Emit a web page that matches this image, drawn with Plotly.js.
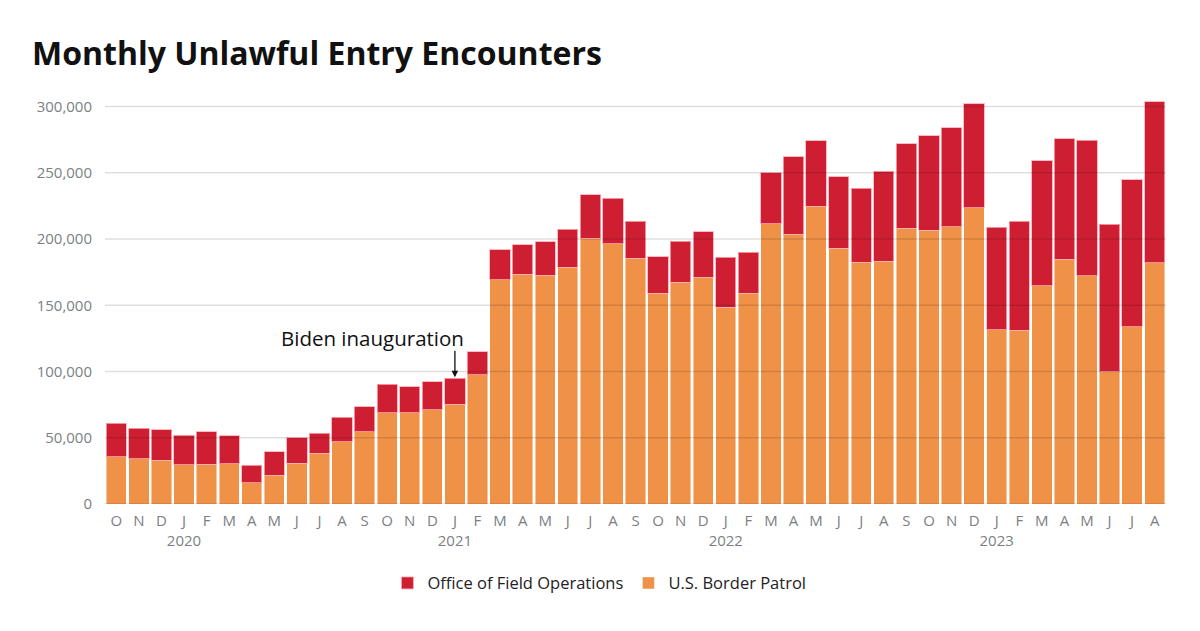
<!DOCTYPE html>
<html>
<head>
<meta charset="utf-8">
<script src="https://cdn.plot.ly/plotly-3.0.1.min.js"></script>
<style>
    html, body { margin: 0; padding: 0; background: #fff; }
    #graphDiv { width: 1200px; height: 631px; }
</style>
</head>
<body>
<div id="graphDiv"></div>
<script>
// Months from Oct 2019 to Aug 2023
let monthKeys = [
    '2019-10', '2019-11', '2019-12',
    '2020-01', '2020-02', '2020-03', '2020-04', '2020-05', '2020-06',
    '2020-07', '2020-08', '2020-09', '2020-10', '2020-11', '2020-12',
    '2021-01', '2021-02', '2021-03', '2021-04', '2021-05', '2021-06',
    '2021-07', '2021-08', '2021-09', '2021-10', '2021-11', '2021-12',
    '2022-01', '2022-02', '2022-03', '2022-04', '2022-05', '2022-06',
    '2022-07', '2022-08', '2022-09', '2022-10', '2022-11', '2022-12',
    '2023-01', '2023-02', '2023-03', '2023-04', '2023-05', '2023-06',
    '2023-07', '2023-08'
];

// Tick labels: month letter, year added under each January
let tickLabels = [
    'O', 'N', 'D',
    'J<br>2020', 'F', 'M', 'A', 'M', 'J', 'J', 'A', 'S', 'O', 'N', 'D',
    'J<br>2021', 'F', 'M', 'A', 'M', 'J', 'J', 'A', 'S', 'O', 'N', 'D',
    'J<br>2022', 'F', 'M', 'A', 'M', 'J', 'J', 'A', 'S', 'O', 'N', 'D',
    'J<br>2023', 'F', 'M', 'A', 'M', 'J', 'J', 'A'
];

// U.S. Border Patrol encounters (bottom of stack)
let borderPatrol = [
    35800, 34000, 33200, 29700, 30200, 30500, 16100, 21700, 30700, 38500, 47100, 54700,
    69000, 69000, 71000, 75300, 97700, 169300, 173600, 172800, 178900, 200800, 196500, 185700,
    159200, 167300, 171300, 148600, 159200, 211600, 203800, 224700, 192900, 182400, 183100, 208300,
    206800, 209300, 223700, 131700, 131200, 164700, 184900, 172300, 100000, 134000, 182100
];

// Office of Field Operations encounters (top of stack)
let fieldOps = [
    25200, 23200, 22700, 22200, 24200, 21100, 13100, 17800, 19200, 14900, 18400, 18900,
    21400, 19700, 21400, 19700, 17400, 22600, 22100, 25200, 28700, 32700, 34500, 27700,
    27500, 30900, 34200, 37800, 31000, 38300, 58200, 49600, 54000, 56100, 68000, 63500,
    71100, 74800, 78300, 77100, 82200, 94500, 90700, 102500, 111100, 110800, 121700
];

let yTicks = [0, 50000, 100000, 150000, 200000, 250000, 300000];

let inaugurationMonth = '2021-01';

function init() {
    let graphDiv = document.getElementById('graphDiv');

    let tickFont = {family: 'Open Sans, sans-serif', size: 15, color: '#7b7f84'};

    let data = [
        {
            name: 'U.S. Border Patrol',
            type: 'bar',
            x: monthKeys,
            y: borderPatrol,
            marker: {color: '#ef9248', line: {color: 'rgba(255,255,255,0.45)', width: 1}},
            hoverinfo: 'x+y'
        },
        {
            name: 'Office of Field Operations',
            type: 'bar',
            x: monthKeys,
            y: fieldOps,
            marker: {color: '#ce1f32', line: {color: 'rgba(255,170,180,0.8)', width: 1}},
            hoverinfo: 'x+y'
        }
    ];

    // grid lines drawn over the bars, like the original
    let gridShapes = yTicks.map(function (v) {
        return {
            type: 'line', xref: 'paper', x0: 0, x1: 1, yref: 'y', y0: v, y1: v,
            layer: 'above',
            line: {color: 'rgba(0,0,0,0.13)', width: 1.5}
        };
    });

    // total at inauguration month, for placing the arrow
    let idx = monthKeys.indexOf(inaugurationMonth);
    let inaugTotal = borderPatrol[idx] + fieldOps[idx];

    let layout = {
        width: 1200,
        height: 631,
        margin: {l: 105, r: 34, t: 100, b: 127},
        paper_bgcolor: '#ffffff',
        plot_bgcolor: '#ffffff',
        barmode: 'stack',
        bargap: 0.1,
        showlegend: true,
        title: {
            text: 'Monthly Unlawful Entry Encounters',
            xref: 'container', yref: 'container',
            x: 0.0267, xanchor: 'left',
            y: 0.914, yanchor: 'middle',
            font: {family: 'Open Sans, sans-serif', size: 32, weight: 700, color: '#111111'}
        },
        xaxis: {
            type: 'category',
            tickmode: 'array',
            tickvals: monthKeys,
            ticktext: tickLabels,
            showgrid: false,
            showline: false,
            zeroline: false,
            ticks: '',
            ticklabelstandoff: 6,
            tickangle: 0,
            tickfont: tickFont,
            range: [-0.5, monthKeys.length - 0.5],
            fixedrange: true
        },
        yaxis: {
            range: [0, 305000],
            tickmode: 'array',
            tickvals: yTicks,
            tickformat: ',',
            showgrid: false,
            zeroline: false,
            showline: false,
            ticks: '',
            ticklabelstandoff: 12,
            tickfont: tickFont,
            fixedrange: true
        },
        legend: {
            orientation: 'h',
            traceorder: 'reversed',
            x: 0.466, xanchor: 'center',
            y: -0.196, yanchor: 'middle',
            font: {family: 'Open Sans, sans-serif', size: 16.5, color: '#222222'},
            itemwidth: 30
        },
        shapes: gridShapes,
        annotations: [
            {
                x: inaugurationMonth, y: inaugTotal,
                xref: 'x', yref: 'y',
                text: '',
                showarrow: true,
                arrowhead: 2, arrowsize: 1, arrowwidth: 1.3, arrowcolor: '#111111',
                ax: 0, ay: -29,
                standoff: 1
            },
            {
                x: inaugurationMonth, y: inaugTotal,
                xref: 'x', yref: 'y',
                text: 'Biden inauguration',
                showarrow: false,
                xanchor: 'right', yanchor: 'middle',
                xshift: 11, yshift: 40,
                font: {family: 'Open Sans, sans-serif', size: 20.5, color: '#111111'}
            }
        ]
    };

    Plotly.newPlot(graphDiv, data, layout, {displayModeBar: false, staticPlot: true});
}

init();
</script>
</body>
</html>
